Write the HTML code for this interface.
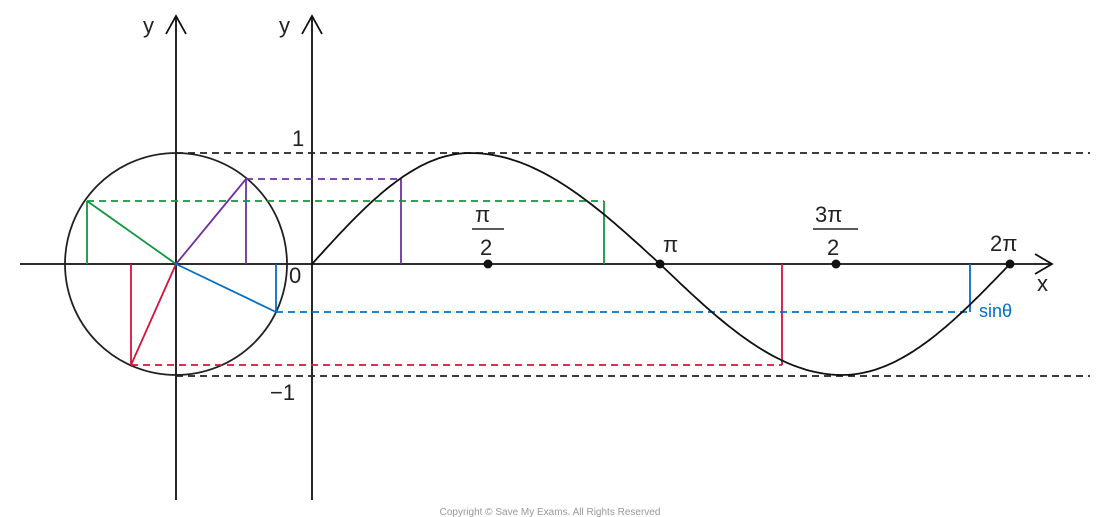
<!DOCTYPE html>
<html><head><style>
html,body{margin:0;padding:0;background:#fff;}
svg{display:block;}
text{font-family:"Liberation Sans",sans-serif;}
</style></head><body>
<svg width="1100" height="517" viewBox="0 0 1100 517" xmlns="http://www.w3.org/2000/svg">
<g fill="none" stroke-width="1.8">
<line x1="176" y1="16" x2="176" y2="500" stroke="#111"/>
<line x1="312" y1="16" x2="312" y2="500" stroke="#111"/>
<line x1="20" y1="264" x2="1052" y2="264" stroke="#111"/>
<polyline points="166,34 176,16 186,34" stroke="#111"/>
<polyline points="302,34 312,16 322,34" stroke="#111"/>
<polyline points="1035,254 1052,264 1035,274" stroke="#111"/>
<circle cx="176" cy="264" r="111" stroke="#222"/>
<line x1="176" y1="153" x2="1090" y2="153" stroke="#222" stroke-dasharray="7,5"/>
<line x1="176" y1="376" x2="1090" y2="376" stroke="#222" stroke-dasharray="7,5"/>
<line x1="176" y1="264" x2="246" y2="179" stroke="#7030a0"/>
<line x1="246" y1="179" x2="246" y2="264" stroke="#7030a0"/>
<line x1="246" y1="179" x2="401" y2="179" stroke="#7030a0" stroke-dasharray="7,5"/>
<line x1="401" y1="179" x2="401" y2="264" stroke="#7030a0"/>
<line x1="176" y1="264" x2="87" y2="201" stroke="#10963c"/>
<line x1="87" y1="201" x2="87" y2="264" stroke="#10963c"/>
<line x1="87" y1="201" x2="604" y2="201" stroke="#10963c" stroke-dasharray="7,5"/>
<line x1="604" y1="201" x2="604" y2="264" stroke="#10963c"/>
<line x1="176" y1="264" x2="131" y2="365" stroke="#d9113a"/>
<line x1="131" y1="365" x2="131" y2="264" stroke="#d9113a"/>
<line x1="131" y1="365" x2="782" y2="365" stroke="#d9113a" stroke-dasharray="7,5"/>
<line x1="782" y1="365" x2="782" y2="264" stroke="#d9113a"/>
<line x1="176" y1="264" x2="276" y2="312" stroke="#0070c8"/>
<line x1="276" y1="312" x2="276" y2="264" stroke="#0070c8"/>
<line x1="276" y1="312" x2="970" y2="312" stroke="#0070c8" stroke-dasharray="7,5"/>
<line x1="970" y1="312" x2="970" y2="264" stroke="#0070c8"/>
<path id="s" stroke="#111" d=""/>
</g>
<g fill="#111">
<circle cx="488" cy="264" r="4.5"/>
<circle cx="660" cy="264" r="4.5"/>
<circle cx="836" cy="264" r="4.5"/>
<circle cx="1010" cy="264" r="4.5"/>
</g>
<g fill="#222" font-size="22">
<text x="143" y="33">y</text>
<text x="279" y="33">y</text>
<text x="1037" y="291">x</text>
<text x="292" y="146">1</text>
<text x="289" y="283">0</text>
<text x="270" y="400">−1</text>
<text x="475" y="222">π</text>
<text x="480" y="255">2</text>
<line x1="472" y1="229" x2="504" y2="229" stroke="#222" stroke-width="1.5"/>
<text x="663" y="252">π</text>
<text x="815" y="222">3π</text>
<text x="827" y="255">2</text>
<line x1="813" y1="229" x2="858" y2="229" stroke="#222" stroke-width="1.5"/>
<text x="990" y="251">2π</text>
</g>
<text x="979" y="317" font-size="18" fill="#0070c8">sinθ</text>
<text x="550" y="515" font-size="10" fill="#999" text-anchor="middle">Copyright © Save My Exams. All Rights Reserved</text>
<script>
function X(t){ // t in [0,1] of half period; warp
 return t;}
var d="M312 264";
for(var i=1;i<=100;i++){var t=i/100;var th=t*Math.PI;var x;
 if(th<=Math.PI/2){x=312+(470-312)*(th/(Math.PI/2));}else{x=470+(660-470)*((th-Math.PI/2)/(Math.PI/2));}
 d+=" L"+x.toFixed(1)+" "+(264-111*Math.sin(th)).toFixed(1);}
for(var i=1;i<=100;i++){var t=i/100;var th=t*Math.PI;var x;
 if(th<=Math.PI/2){x=660+(842-660)*(th/(Math.PI/2));}else{x=842+(1010-842)*((th-Math.PI/2)/(Math.PI/2));}
 d+=" L"+x.toFixed(1)+" "+(264+111*Math.sin(th)).toFixed(1);}
document.getElementById("s").setAttribute("d",d);
</script>
</svg>
</body></html>
